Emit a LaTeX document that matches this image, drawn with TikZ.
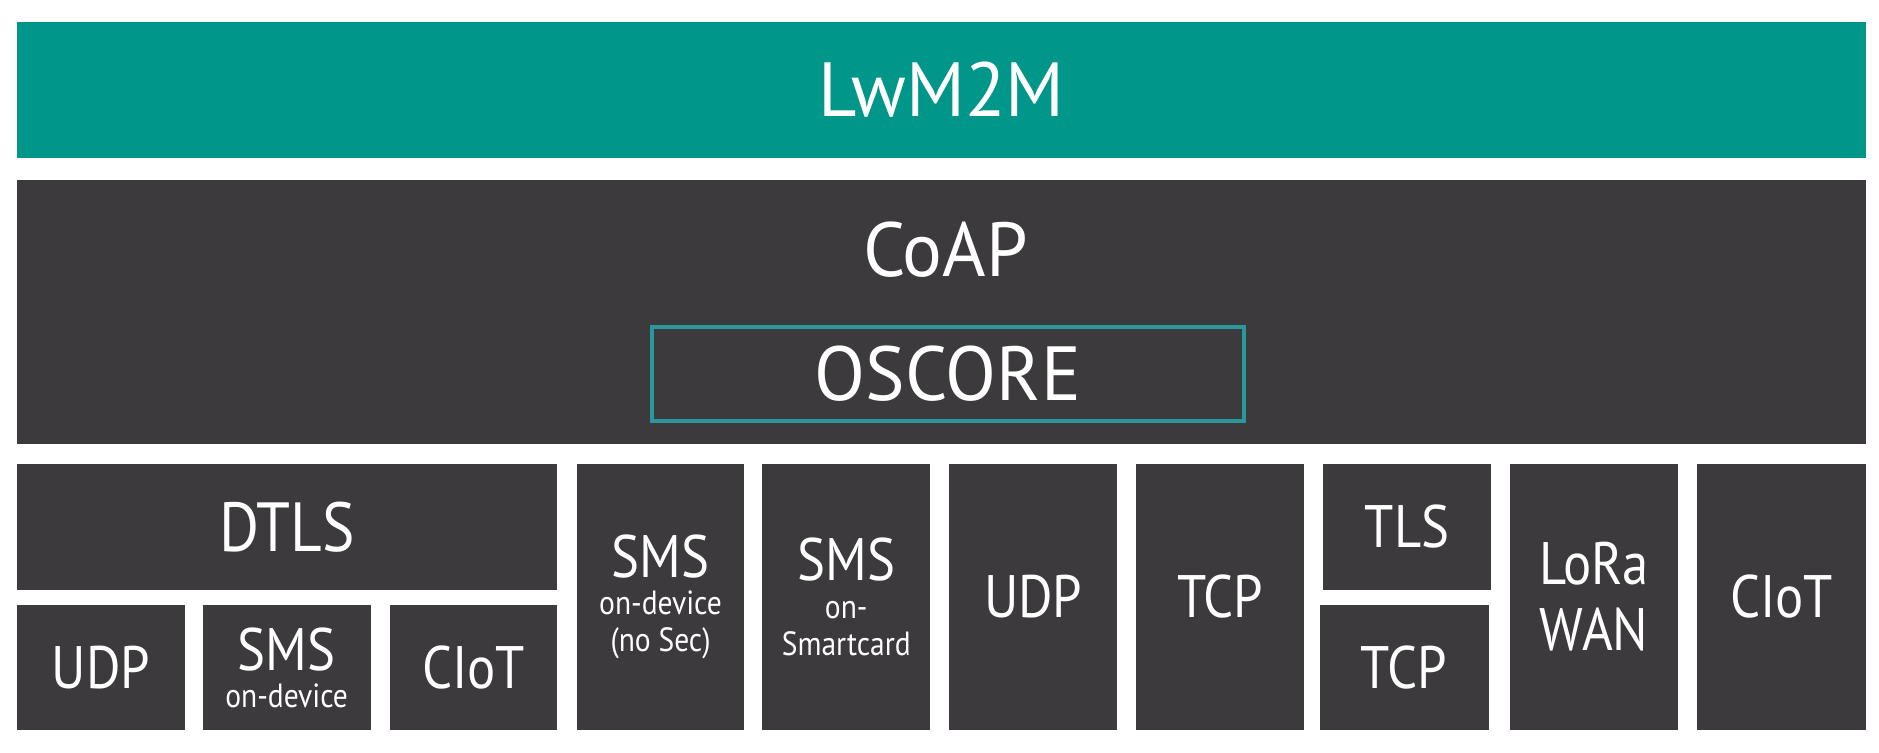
\documentclass[tikz,border=0pt]{standalone}
\usepackage{fontspec}
\setmainfont[FakeStretch=0.88]{PT Sans}
\newfontfamily\headfont[FakeStretch=0.97]{PT Sans}
\usetikzlibrary{positioning}
\definecolor{lwteal}{RGB}{0,150,138}
\definecolor{stackgrey}{RGB}{61,58,62}
\definecolor{oscoreline}{RGB}{40,152,156}
\newcommand{\sizeto}[2]{\fontsize{#1}{#2}\selectfont}

\begin{document}
\begin{tikzpicture}[x=1pt,y=-1pt,
    tile/.style={fill=stackgrey,text=white,inner sep=0pt,anchor=north west,align=center,font=\sizeto{50}{31}},
    bar/.style={tile,minimum width=1543pt},
    col/.style={tile,minimum width=140pt,minimum height=222pt},
    cell/.style={tile,minimum width=140pt,minimum height=104pt},
    head/.style={font=\headfont\sizeto{64}{64}}]
    \useasboundingbox[fill=white] (0,0) rectangle (1568,628);
    \node[bar,fill=lwteal,minimum height=114pt,head] (lwm2m) at (14,18) {LwM2M};
    \node[bar,minimum height=220pt] (coap) at (14,150) {};
    \node[text=white,head] (coaplbl) at (789,208) {CoAP};
    \node[draw=oscoreline,line width=3.5pt,text=white,inner sep=0pt,minimum width=494.5pt,minimum height=78.5pt,head] (oscore) at (791,312) {OSCORE};
    \node[tile,minimum width=451pt,minimum height=105pt,font=\sizeto{58}{58}] (dtls) at (14,387) {DTLS};
    \node[cell] (udpa) at (14,505) {UDP};
    \node[cell] (smsa) at (169,505) {SMS\\{\sizeto{28}{29}on-device}};
    \node[cell] (ciota) at (325,505) {CIoT};
    \node[col] (smsb) at (481,387) {SMS\\{\sizeto{28}{29}on-device}\\{\sizeto{28}{29}(no Sec)}};
    \node[col] (smsc) at (636,387) {SMS\\{\sizeto{28}{29}on-}\\{\sizeto{28}{29}Smartcard}};
    \node[col] (udpb) at (792,387) {UDP};
    \node[col] (tcpa) at (948,387) {TCP};
    \node[cell,minimum height=105pt] (tls) at (1104,387) {TLS};
    \node[cell,minimum width=141pt] (tcpb) at (1101,505) {TCP};
    \node[col] (lora) at (1260,387) {LoRa\\[18pt]WAN};
    \node[col,minimum width=141pt] (ciotb) at (1416,387) {CIoT};
\end{tikzpicture}
\end{document}
